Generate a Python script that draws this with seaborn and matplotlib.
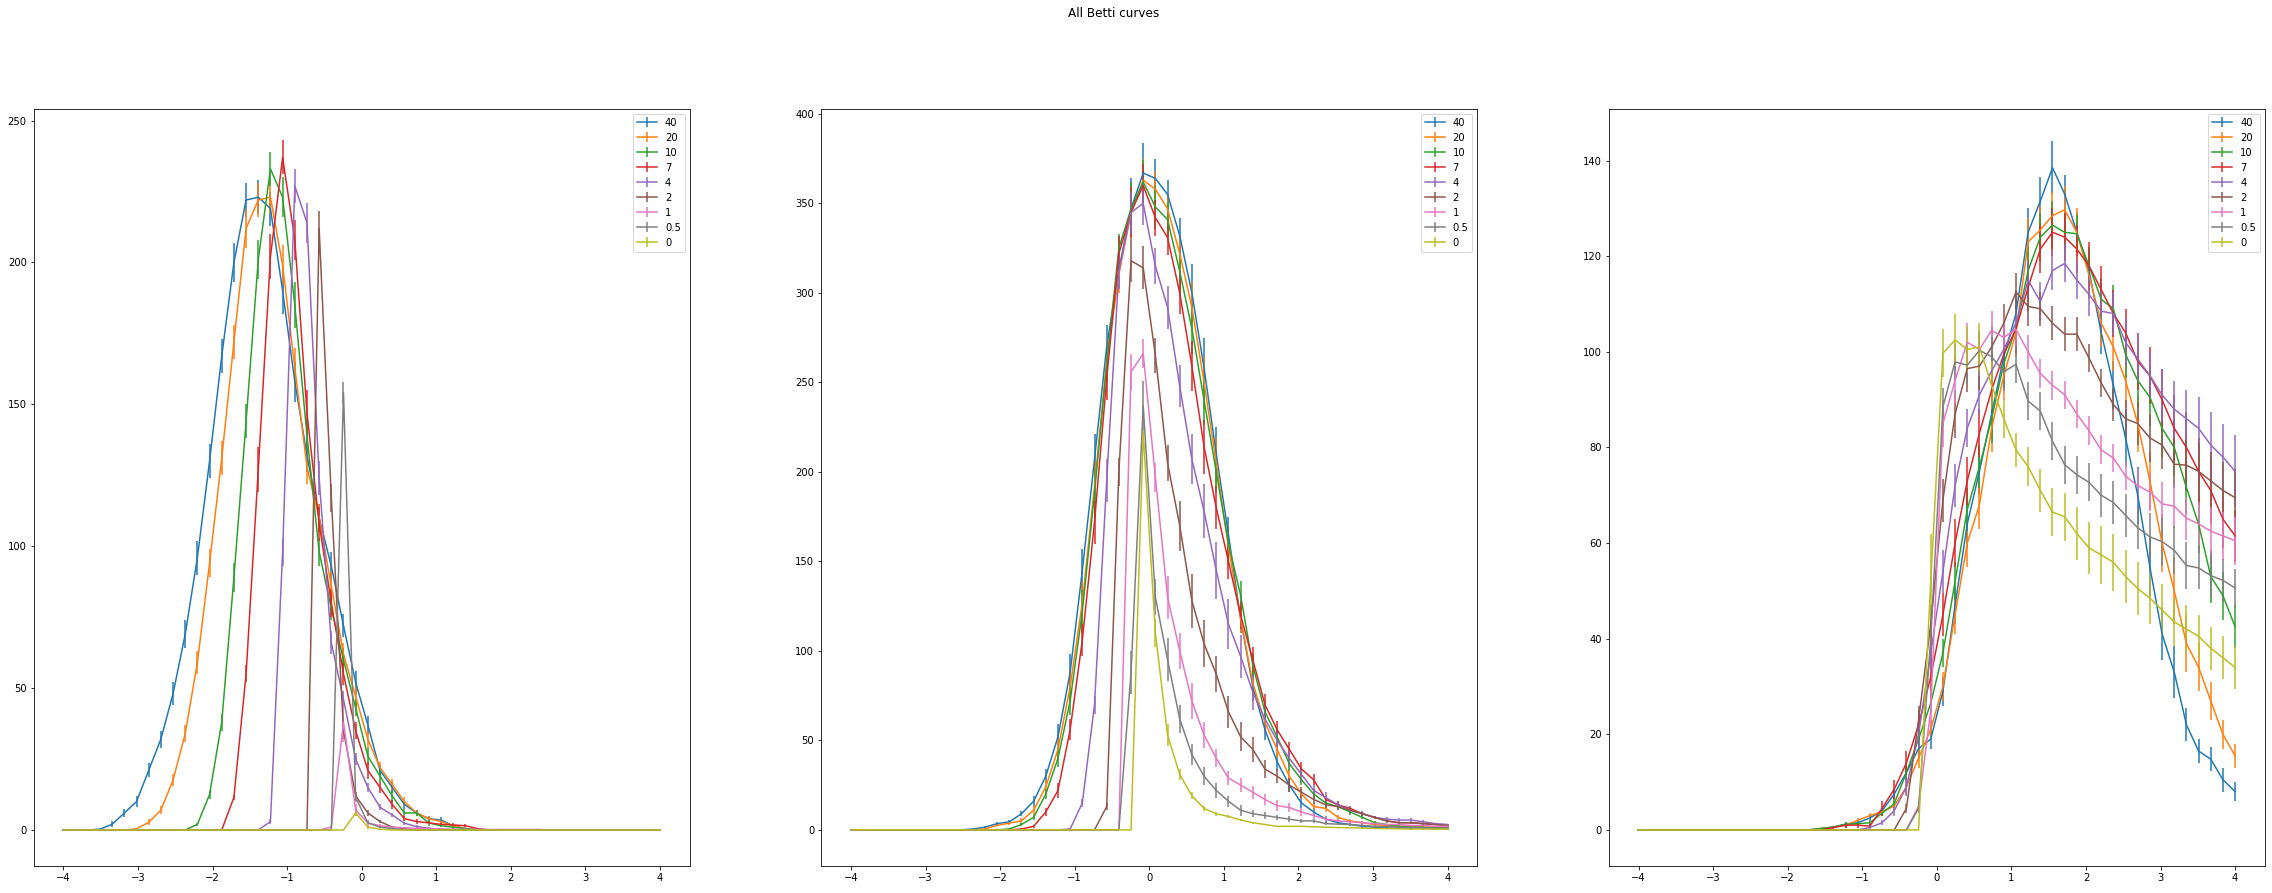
import numpy as np
import matplotlib
matplotlib.use("Agg")
import matplotlib.pyplot as plt
import seaborn as sns

# x grid shared by every curve (filtration values)
X = np.linspace(-4, 4, 50)
LABELS = ['40', '20', '10', '7', '4', '2', '1', '0.5', '0']

# ---- panel 1 : mean curves ----
P1_40 = [0, 0, 0, 0.3, 2, 6, 10, 21, 32, 48, 69, 96, 130, 167, 200, 222, 223, 219, 190, 158,
         132, 110, 93, 72, 52, 37, 21, 15, 9, 6, 4, 3.5, 1.5, 0.5] + [0] * 16
P1_20 = [0] * 6 + [0.4, 2.7, 7, 17.6, 34, 59, 94, 131, 172, 212, 222, 223, 199, 163, 128, 110, 86, 62,
                   47, 32, 22, 16, 10, 6, 4, 3, 1.5, 0.5] + [0] * 16
P1_10 = [0] * 11 + [2, 12.5, 38, 89, 144, 201, 233, 223, 185, 139, 98, 78, 60, 43, 26, 19, 12, 6, 6,
                    2.5, 1.5, 1, 0.5] + [0] * 16
P1_7 = [0] * 14 + [11.5, 55, 127, 202, 237, 208, 147, 108, 80, 55, 35, 21, 15, 9, 4, 3, 2.5, 2, 1.8,
                   1.5, 0.5] + [0] * 15
P1_4 = [0] * 17 + [3, 98, 227, 214, 124, 66, 46, 25, 15, 8, 5.3, 2.4, 1.2, 0.6, 0.3] + [0] * 18
P1_2 = [0] * 21 + [212, 117, 35, 12, 6, 3, 1, 0.5] + [0] * 21
P1_1 = [0] * 22 + [1, 38, 7, 2.5, 1.5, 1, 0.8, 0.6, 0.5, 0.4, 0.3, 0.2, 0.2, 0.2, 0.2, 0.2, 0.2,
                   0.2] + [0] * 10
P1_05 = [0] * 23 + [154, 11.5, 2.5, 1, 0.5] + [0] * 22
P1_0 = [0] * 24 + [6, 1, 0.3] + [0] * 23

# panel 1 : error bar half-lengths
E1_40 = [0] * 4 + [1, 1.5, 2, 2.5, 3, 4, 5, 6, 6, 6, 7, 6, 6, 6, 8, 7, 6, 5, 5, 4, 4, 3, 2, 2, 1.5,
                   1, 1, 1, 0.5, 0.3] + [0] * 16
E1_20 = [0] * 6 + [0.3, 1, 1.5, 2, 3, 4, 5, 6, 6, 7, 6, 6, 7, 7, 6, 5, 5, 4, 4, 3, 2, 2, 1.5, 1, 1,
                   1, 0.5, 0.3] + [0] * 16
E1_10 = [0] * 11 + [0.5, 1.5, 3, 5, 6, 7, 6, 7, 8, 6, 5, 4, 4, 3, 3, 2, 2, 1.5, 1, 1, 0.5, 0.5,
                    0.3] + [0] * 16
E1_7 = [0] * 14 + [1, 3, 8, 8, 6, 7, 8, 6, 5, 4, 3, 3, 2, 1.5, 1, 0.8, 0.5, 0.5, 0.5, 0.5,
                   0.3] + [0] * 15
E1_4 = [0] * 17 + [1, 5, 6, 7, 6, 4, 3, 2, 1.5, 1, 0.8, 0.5, 0.5, 0.3, 0.2] + [0] * 18
E1_2 = [0] * 21 + [6, 5, 3, 1.5, 1, 0.5, 0.3, 0.2] + [0] * 21
E1_1 = [0] * 22 + [0.5, 7, 2, 1, 0.5, 0.5, 0.3, 0.3, 0.2, 0.2, 0.2, 0.1, 0.1, 0.1, 0.1, 0.1, 0.1,
                   0.1] + [0] * 10
E1_05 = [0] * 23 + [4, 1.5, 0.5, 0.3, 0.2] + [0] * 22
E1_0 = [0] * 24 + [1, 0.5, 0.2] + [0] * 23

# ---- panel 2 ----
P2_40 = [0] * 10 + [0.5, 1.5, 3.5, 4.5, 9, 16, 30, 52, 88, 145, 207, 270, 313, 347, 367, 364, 355,
                    332, 300, 258, 210, 165, 118, 80, 56, 38, 25, 15, 10, 6, 4, 3, 2, 1.5, 1, 1, 1,
                    1, 1, 1]
P2_20 = [0] * 11 + [0.5, 2.5, 3.8, 5, 11, 24, 45, 80, 127, 192, 262, 310, 345, 363, 358, 347, 322,
                    292, 250, 205, 158, 118, 82, 60, 45, 30, 20, 13, 12, 7, 5, 4, 3, 2.5, 2, 2, 1.5,
                    1.5, 1.5]
P2_10 = [0] * 13 + [0.5, 3, 7, 20, 40, 72, 122, 188, 260, 325, 347, 362, 348, 341, 312, 280, 240,
                    200, 160, 131, 92, 66, 52, 37, 28, 20, 15, 13, 10, 7, 4, 3, 2, 1.5, 1.5, 1, 1]
P2_7 = [0] * 14 + [0.5, 2, 10, 22, 56, 106, 172, 252, 322, 345, 360, 342, 331, 300, 259, 214, 180,
                   150, 120, 95, 70, 56, 45, 34, 28, 17, 14, 12, 9, 7, 5, 4, 4, 3.5, 3, 2.5]
P2_4 = [0] * 18 + [0.5, 15, 70, 195, 312, 345, 350, 315, 292, 248, 207, 178, 145, 115, 97, 77, 62,
                   50, 40, 31, 22, 18, 14, 11, 9, 7, 6, 5.5, 5.5, 4.5, 3.5, 3]
P2_2 = [0] * 21 + [13, 200, 318, 314, 265, 205, 170, 128, 104, 87, 66, 52, 45, 34, 30, 25, 21, 17,
                   14, 13, 11, 9, 7, 5, 4, 4, 3.5, 3, 2.5]
P2_1 = [0] * 23 + [256, 266, 197, 130, 100, 72, 53, 40, 29, 25, 21, 17, 13.5, 12.5, 10, 8, 6, 5,
                   4.5, 4, 3.5, 3, 3, 2.5, 2.5, 2, 2]
P2_05 = [0] * 23 + [88, 237, 130, 95, 62, 42, 30, 22, 16, 11, 9, 8, 7, 6, 5, 5, 3.5, 3.2, 3, 2.5, 2,
                    1.8, 1.5, 1.5, 1.2, 1, 1]
P2_0 = [0] * 24 + [222, 110, 53, 31, 19, 12, 9, 7.5, 5.5, 4, 3, 2, 2, 2, 1.7, 1.5, 1.3, 1.2, 1, 0.8,
                   0.7, 0.6, 0.5, 0.5, 0.4, 0.4]

E2_40 = [0] * 10 + [0.3, 0.5, 1, 1, 1.5, 3, 4, 7, 10, 12, 14, 12, 10, 17, 17, 11, 8, 10, 16, 17, 15,
                    10, 8, 8, 6, 5, 4, 3, 2, 2, 1.5, 1, 1, 0.5, 0.5, 0.5, 0.5, 0.5, 0.5, 0.5]
E2_20 = [0] * 11 + [0.3, 0.5, 0.8, 1.5, 2.5, 4, 6, 9, 12, 14, 12, 10, 15, 12, 10, 8, 10, 14, 15, 14,
                    10, 8, 7, 6, 5, 4, 3, 2, 2, 1.5, 1, 1, 0.5, 0.5, 0.5, 0.5, 0.5, 0.5, 0.5]
E2_10 = [0] * 13 + [0.3, 0.8, 1.5, 3, 5, 8, 12, 14, 10, 8, 15, 12, 12, 10, 12, 14, 14, 12, 10, 8, 7,
                    6, 5, 4, 3, 3, 2, 2, 1.5, 1, 1, 0.5, 0.5, 0.5, 0.5, 0.3, 0.3]
E2_7 = [0] * 14 + [0.3, 1, 2, 4, 6, 9, 12, 12, 10, 14, 12, 10, 10, 12, 14, 15, 12, 10, 8, 7, 6, 5,
                   4, 4, 3, 2, 2, 1.5, 1, 1, 0.5, 0.5, 0.5, 0.5, 0.5, 0.3]
E2_4 = [0] * 18 + [0.3, 2, 5, 12, 10, 12, 12, 10, 12, 12, 14, 15, 16, 14, 12, 10, 8, 6, 5, 4, 3, 3,
                   2, 2, 1.5, 1, 1, 1, 1, 1, 0.5, 0.5]
E2_2 = [0] * 21 + [2, 8, 12, 12, 10, 10, 14, 15, 13, 10, 9, 8, 7, 5, 4, 4, 3, 2.5, 2, 2, 1.5, 1, 1,
                   1, 0.5, 0.5, 0.5, 0.5, 0.3]
E2_1 = [0] * 23 + [10, 8, 8, 12, 10, 10, 7, 5, 4, 4, 3.5, 3, 3, 2.5, 2, 2, 1.5, 1, 1, 1, 0.5, 0.5,
                   0.5, 0.5, 0.5, 0.3, 0.3]
E2_05 = [0] * 23 + [12, 14, 10, 12, 8, 6, 5, 4, 3, 3, 2, 2, 1.5, 1.5, 1, 1, 1, 0.5, 0.5, 0.5, 0.5,
                    0.5, 0.3, 0.3, 0.3, 0.3, 0.3]
E2_0 = [0] * 24 + [2, 8, 6, 3, 2, 1.5, 1, 1, 0.5, 0.5, 0.5, 0.3, 0.3, 0.3, 0.3, 0.3, 0.3, 0.3, 0.3,
                   0.3, 0.3, 0.3, 0.3, 0.3, 0.3, 0.3]

# ---- panel 3 ----
P3_40 = [0] * 15 + [0.3, 0.6, 1.2, 1.5, 2.5, 4, 7.5, 12, 17, 19, 29, 47, 64, 75, 87, 99, 108, 125,
                    131.5, 138.5, 133, 125, 117, 104, 93, 82, 70, 55, 41, 33, 22, 16.5, 14.8, 10.5, 8]
P3_20 = [0] * 15 + [0.3, 0.5, 1, 2, 3, 3.8, 5, 9, 15, 21, 30, 45, 60, 68, 84, 95, 104, 123, 125.5,
                    128.5, 129.7, 125, 116, 106, 101, 94, 85, 73, 60, 50, 39, 34, 27, 20, 15.5]
P3_10 = [0] * 15 + [0.3, 0.6, 1.2, 1.3, 1.5, 3.5, 5.5, 12, 19, 26.5, 37, 52, 67, 76, 86, 97.5, 105,
                    117, 124, 126.5, 125, 124.7, 118, 111, 109, 99.5, 94, 90.5, 84, 80, 71.6, 64, 53,
                    49, 42.5]
P3_7 = [0] * 16 + [0.5, 1, 1, 0.8, 4.5, 8.5, 14, 22, 32, 45, 60, 73, 83, 92, 99.5, 104.8, 113.5,
                   121.5, 125, 124, 121.5, 118, 113, 108, 104, 98, 95, 90, 84, 80, 75, 71, 65, 61.5]
P3_4 = [0] * 19 + [0.5, 1.5, 4, 9, 20, 37, 54, 72, 84, 91, 96, 100.5, 106, 115, 110.5, 117, 118.5,
                   115, 112, 108.5, 108, 102, 98.5, 95, 91, 88, 86, 84, 80.5, 78, 75]
P3_2 = [0] * 22 + [4.5, 23, 43, 69, 87, 96.5, 97, 101, 106, 112.5, 109.5, 109, 106, 103.7, 103.7,
                   98.7, 93.5, 89, 86, 85, 82, 80.5, 76.5, 76.3, 75, 73, 71, 69.5]
P3_1 = [0] * 23 + [5, 25, 85, 94, 102, 100.5, 104.5, 103, 104.7, 100, 95.5, 93, 91, 87, 83.5, 79.5,
                   77.8, 74, 72, 70.7, 68.2, 67.7, 65.2, 64, 62.5, 61.5, 60.5]
P3_05 = [0] * 23 + [4.5, 40, 88.5, 97.9, 97.2, 100.3, 99, 95.8, 97.4, 89.7, 87.6, 81.3, 76.4, 74.3,
                    72.7, 70, 68.5, 65.8, 63.2, 61.3, 60.3, 58.5, 55.3, 54.8, 53.2, 52.2, 50.6]
P3_0 = [0] * 24 + [52, 99.7, 102.5, 100.5, 101, 93, 86, 79.5, 76, 71, 66.5, 65.5, 62, 59, 57.5, 56,
                   53, 50.5, 48.5, 46, 43.5, 42, 40.5, 38, 36, 34]

E3_40 = [0] * 15 + [0.2, 0.3, 0.5, 0.5, 0.5, 0.5, 1, 1.5, 2, 2, 3, 4, 5, 5, 5, 5, 5, 5, 5, 5.5, 4, 4,
                    4, 4.5, 5, 6, 6, 6, 5.5, 5.5, 3.5, 2.5, 2.5, 2.5, 2]
E3_20 = [0] * 15 + [0.2, 0.3, 0.5, 0.5, 0.5, 0.5, 1, 1.5, 2, 2, 3, 4, 5, 5, 5, 5, 5, 5, 5, 5, 5, 5,
                    5, 5, 5, 5.5, 6, 6, 6, 7, 6, 5, 4, 3, 2.5]
E3_10 = [0] * 15 + [0.2, 0.3, 0.5, 0.5, 0.5, 0.5, 1, 1.5, 2, 2, 3, 4, 4.5, 4.5, 5, 5, 5, 5, 5, 5, 4,
                    4, 4, 4.5, 5, 5, 5.5, 6, 6, 6, 5.5, 6, 5.5, 5, 4.5]
E3_7 = [0] * 16 + [0.3, 0.5, 0.5, 0.5, 1.5, 2, 2.5, 3, 4, 4.5, 5, 5, 5, 5, 5, 5, 5, 5, 5, 5, 5, 5,
                   5, 5, 5, 6, 6, 6.5, 7, 7.5, 7, 7, 6, 5.5]
E3_4 = [0] * 19 + [0.3, 0.5, 1, 2, 3, 4, 4.5, 4.5, 4, 4, 4, 4, 4, 4, 4, 4, 4, 4, 4.5, 4.5, 4.5, 5,
                   5, 5, 5.5, 6, 6, 6.5, 7, 7, 7.5]
E3_2 = [0] * 22 + [1, 3, 4, 4.5, 5, 5, 5, 4.5, 4, 4, 4, 3.5, 3.5, 3.5, 3.5, 3, 3, 3.5, 4, 4.5, 5, 5,
                   5, 5.5, 6, 6, 6, 6]
E3_1 = [0] * 23 + [1, 4, 5, 5, 4, 4, 4, 4, 4, 3.5, 3, 3, 3, 3, 3, 3, 3, 3, 3.5, 4, 4.5, 4.5, 4.5,
                   4.5, 5, 5, 5]
E3_05 = [0] * 23 + [1, 4, 4, 4, 4, 4, 4, 4, 4, 4, 4, 4, 4, 4, 4, 4.5, 4.5, 4.5, 4.5, 5, 5, 5, 5,
                    4.5, 4.5, 4.5, 4]
E3_0 = [0] * 24 + [10, 5, 5.5, 5, 5, 5, 4, 3.5, 4, 4.5, 5, 5, 5.5, 5.5, 6, 6, 5.5, 5.5, 5.5, 5.5, 5,
                   5, 4.5, 4.5, 4.5, 4.5]

PANELS = [
    ([P1_40, P1_20, P1_10, P1_7, P1_4, P1_2, P1_1, P1_05, P1_0],
     [E1_40, E1_20, E1_10, E1_7, E1_4, E1_2, E1_1, E1_05, E1_0], (-12.7, 254.1)),
    ([P2_40, P2_20, P2_10, P2_7, P2_4, P2_2, P2_1, P2_05, P2_0],
     [E2_40, E2_20, E2_10, E2_7, E2_4, E2_2, E2_1, E2_05, E2_0], (-20.2, 402.8)),
    ([P3_40, P3_20, P3_10, P3_7, P3_4, P3_2, P3_1, P3_05, P3_0],
     [E3_40, E3_20, E3_10, E3_7, E3_4, E3_2, E3_1, E3_05, E3_0], (-7.55, 150.8)),
]

palette = sns.color_palette('tab10', len(LABELS))

fig, axes = plt.subplots(1, 3, figsize=(2272 / 72, 893 / 72), dpi=72)
fig.subplots_adjust(left=0.0148, right=0.9969, bottom=0.0302, top=0.878, wspace=0.2)

for ax, (curves, errs, ylim) in zip(axes, PANELS):
    for lab, y, e, c in zip(LABELS, curves, errs, palette):
        ax.errorbar(X, y, yerr=e, label=lab, color=c)
    ax.set_xlim(-4.4, 4.4)
    ax.set_ylim(*ylim)
    ax.legend(loc='upper right')

fig.suptitle('All Betti curves', x=0.49, y=0.985, va='center')
fig.savefig('out.png', dpi=72)
